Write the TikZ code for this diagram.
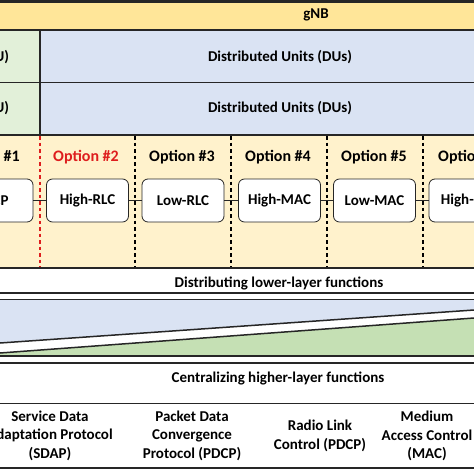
\documentclass[tikz,border=0pt]{standalone}
\usepackage{fontspec}
\setmainfont{Carlito}
\usetikzlibrary{positioning}
\definecolor{gnbyellow}{RGB}{255,230,153}
\definecolor{optyellow}{RGB}{255,242,204}
\definecolor{dublue}{RGB}{218,227,243}
\definecolor{cugreen}{RGB}{226,240,217}
\definecolor{cengreen}{RGB}{197,224,180}
\definecolor{splitred}{RGB}{222,30,30}
\definecolor{edgegray}{RGB}{38,38,38}

\begin{document}
\begin{tikzpicture}[x=1pt,y=-1pt,
	font=\fontsize{15}{18}\selectfont\bfseries,
	band/.style={draw=edgegray,line width=1.5pt},
	layer/.style={draw=edgegray,fill=white,rounded corners=6pt,minimum width=82pt,minimum height=43pt,inner sep=0pt,line width=0.8pt},
	split/.style={line width=2.5pt,dash pattern=on 3.5pt off 3pt},
	optlabel/.style={font=\fontsize{16}{19}\selectfont\bfseries},
	link/.style={draw=edgegray,line width=1pt},
	proto/.style={align=center,font=\fontsize{15}{18.5}\selectfont\bfseries}]
	\useasboundingbox (0,0) rectangle (474,474);
	\clip (0,0) rectangle (474,474);
	%\draw[step=50,gray!30] (0,0) grid (474,474);
	% gNB and unit rows
	\fill[gnbyellow] (0,1) rectangle (474,30);
	\fill[cugreen] (0,30) rectangle (40,134);
	\fill[dublue] (40,30) rectangle (474,134);
	\fill[optyellow] (0,134) rectangle (474,268);
	\node (gnb) at (316,15) {gNB};
	\node[anchor=east] (cu1) at (12.5,57) {Central Unit (CU)};
	\node[anchor=east] (cu2) at (12.5,108) {Central Unit (CU)};
	\node (du1) at (280,57) {Distributed Units (DUs)};
	\node (du2) at (280,108) {Distributed Units (DUs)};
	\draw[band,line width=2.6pt] (0,1.2) -- (474,1.2);
	\draw[band] (0,30) -- (474,30);
	\draw[band] (0,82.5) -- (474,82.5);
	\draw[band,line width=2pt] (0,134.5) -- (474,134.5);
	\draw[band] (40,30) -- (40,134);
	% split options
	\draw[split,splitred] (40,136) -- (40,268);
	\draw[split] (135,136) -- (135,268);
	\draw[split] (231,136) -- (231,268);
	\draw[split] (327,136) -- (327,268);
	\draw[split] (423,136) -- (423,268);
	\node[optlabel] (opt1) at (-13,157) {Option \#1};
	\node[optlabel,text=splitred] (opt2) at (86,157) {Option \#2};
	\node[optlabel] (opt3) at (182,157) {Option \#3};
	\node[optlabel] (opt4) at (278,157) {Option \#4};
	\node[optlabel] (opt5) at (374,157) {Option \#5};
	\node[optlabel] (opt6) at (471,157) {Option \#6};
	\node[layer] (pdcp) at (-8,200.5) {PDCP};
	\node[layer] (hrlc) at (87.5,200.5) {High-RLC};
	\node[layer] (lrlc) at (183,200.5) {Low-RLC};
	\node[layer] (hmac) at (279.5,200.5) {High-MAC};
	\node[layer] (lmac) at (374.5,200.5) {Low-MAC};
	\node[layer] (hphy) at (470,200.5) {High-PHY};
	\draw[link] (pdcp) -- (hrlc);
	\draw[link] (hrlc) -- (lrlc);
	\draw[link] (lrlc) -- (hmac);
	\draw[link] (hmac) -- (lmac);
	\draw[link] (lmac) -- (hphy);
	\draw[band] (0,268) -- (474,268);
	% distributing / centralizing
	\node (dist) at (279,283) {Distributing lower-layer functions};
	\draw[band] (0,293) -- (474,293);
	\draw[band] (0,300) -- (474,300);
	\fill[dublue] (0,300) -- (474,300) -- (474,310) -- (0,343) -- cycle;
	\fill[cengreen] (0,353) -- (474,318) -- (474,356) -- (0,356) -- cycle;
	\draw[band] (0,343) -- (474,310);
	\draw[band] (0,353) -- (474,318);
	\draw[band] (0,356) -- (474,356);
	\draw[band] (0,363) -- (474,363);
	\node (cent) at (278,378) {Centralizing higher-layer functions};
	% protocol layers
	\draw[band] (0,403.5) -- (474,403.5);
	\node[proto] (sdap) at (50,435.5) {Service Data\\Adaptation Protocol\\(SDAP)};
	\node[proto] (pdcpl) at (192,435.5) {Packet Data\\Convergence\\Protocol (PDCP)};
	\node[proto] (rlcl) at (320,436) {Radio Link\\Control (PDCP)};
	\node[proto] (macl) at (427,436) {Medium\\Access Control\\(MAC)};
	\draw[band] (0,468) -- (474,468);
\end{tikzpicture}
\end{document}
